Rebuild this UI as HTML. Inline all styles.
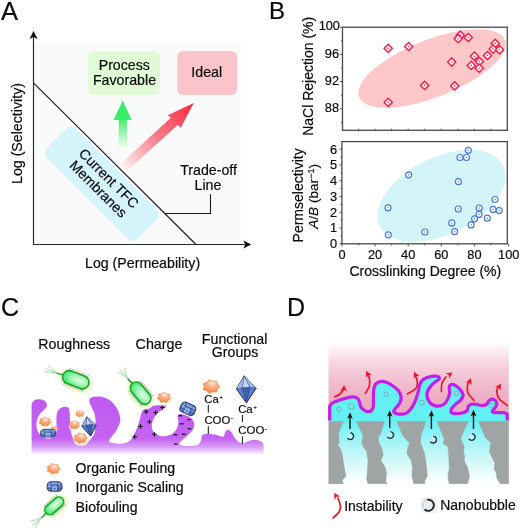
<!DOCTYPE html>
<html><head><meta charset="utf-8"><style>
html,body{margin:0;padding:0;background:#fff;width:520px;height:529px;overflow:hidden}
svg{display:block;will-change:transform}
text{font-family:"Liberation Sans",sans-serif;fill:#0a0a0a;stroke:#0a0a0a;stroke-width:0.18px}
</style></head><body>
<svg width="520" height="529" viewBox="0 0 520 529">
<defs><radialGradient id="bact" cx="0.62" cy="0.45" r="0.6"><stop offset="0" stop-color="#e4fae6"/><stop offset="0.5" stop-color="#a8f4b8"/><stop offset="1" stop-color="#48e878"/></radialGradient><radialGradient id="org" cx="0.55" cy="0.25" r="0.75"><stop offset="0" stop-color="#fdeee4"/><stop offset="0.35" stop-color="#f9b890"/><stop offset="0.75" stop-color="#f6985c"/><stop offset="1" stop-color="#f37e48"/></radialGradient><linearGradient id="hexg" x1="0" y1="0" x2="0.3" y2="1"><stop offset="0" stop-color="#9cb8ee"/><stop offset="0.5" stop-color="#7496dc"/><stop offset="1" stop-color="#5276c4"/></linearGradient><linearGradient id="dia" x1="0" y1="0" x2="1" y2="1"><stop offset="0" stop-color="#a8c0ee"/><stop offset="0.5" stop-color="#5b80cc"/><stop offset="1" stop-color="#34529a"/></linearGradient><linearGradient id="purp" x1="0" y1="395" x2="0" y2="455" gradientUnits="userSpaceOnUse"><stop offset="0" stop-color="#c05af2"/><stop offset="0.72" stop-color="#c462f2"/><stop offset="0.88" stop-color="#d9a4f4"/><stop offset="0.95" stop-color="#efd8fa"/><stop offset="1" stop-color="#ffffff"/></linearGradient></defs>
<text x="1" y="19.5" font-size="25.5">A</text>
<rect x="34.4" y="44" width="206.6" height="200.5" fill="#f9fafa"/>
<rect x="88.3" y="51.2" width="71.7" height="43.8" rx="6" fill="#dffad4"/>
<text x="124.3" y="69.8" font-size="14.2" text-anchor="middle">Process</text>
<text x="124.5" y="85.3" font-size="14.2" text-anchor="middle">Favorable</text>
<rect x="177.2" y="51.1" width="60" height="44" rx="6" fill="#fac4ca"/>
<text x="206.7" y="76.9" font-size="14.2" text-anchor="middle">Ideal</text>
<defs><linearGradient id="ga" x1="0" y1="100" x2="0" y2="149" gradientUnits="userSpaceOnUse"><stop offset="0" stop-color="#2aee5c"/><stop offset="0.4" stop-color="#3cee6c"/><stop offset="0.48" stop-color="#62ee88"/><stop offset="0.75" stop-color="#b0f6c0"/><stop offset="1" stop-color="#f4fff0"/></linearGradient><linearGradient id="ra" x1="122" y1="169" x2="194" y2="103" gradientUnits="userSpaceOnUse"><stop offset="0" stop-color="#fff4f4"/><stop offset="0.5" stop-color="#f47a88"/><stop offset="1" stop-color="#ff2a3c"/></linearGradient></defs>
<polygon points="122.7,100.8 131.7,120 126.9,120 126.9,149 118.7,149 118.7,120 113.5,120" fill="url(#ga)"/>
<polygon points="193.7,103.0 180.8,127.7 177.6,125.1 125.3,172.6 118.7,165.4 170.9,117.8 167.7,115.2" fill="url(#ra)"/>
<rect x="-64" y="-20.7" width="128" height="41.4" rx="7" fill="#d5f3fb" transform="translate(101.9,183.6) rotate(45)"/>
<g transform="translate(103.5,183.2) rotate(45)"><text x="0.3" y="-2.5" font-size="14" text-anchor="middle">Current TFC</text><text x="0.4" y="12.5" font-size="14" text-anchor="middle">Membranes</text></g>
<line x1="33.5" y1="36" x2="33.5" y2="245" stroke="#2a2a2a" stroke-width="1.2"/>
<line x1="32.9" y1="244.5" x2="247" y2="244.5" stroke="#2a2a2a" stroke-width="1.2"/>
<path d="M33.5,31 L37.6,39 L33.5,37 L29.5,39 Z" fill="#111"/>
<path d="M251.3,244.5 L243.3,248.6 L245.3,244.5 L243.3,240.5 Z" fill="#111"/>
<line x1="33.5" y1="82.9" x2="196" y2="244.5" stroke="#1a1a1a" stroke-width="1.1"/>
<polyline points="210.5,194.2 210.5,213.5 164.5,213.5" fill="none" stroke="#1a1a1a" stroke-width="1.1"/>
<text x="208.6" y="174.5" font-size="14.2" text-anchor="middle">Trade-off</text>
<text x="208" y="190.1" font-size="14.2" text-anchor="middle">Line</text>
<text x="85" y="268" font-size="14.2">Log (Permeability)</text>
<text transform="translate(21.5,133.5) rotate(-90)" font-size="14.2" text-anchor="middle">Log (Selectivity)</text>
<text x="269" y="19.4" font-size="24">B</text>
<ellipse cx="432" cy="68.5" rx="78.4" ry="28.8" transform="rotate(-21.4 432 68.5)" fill="#fec8c9"/>
<path d="M388.2,44.2 l4.1,4.1 l-4.1,4.1 l-4.1,-4.1 z" fill="#fff" stroke="#f8174a" stroke-width="1.4"/>
<circle cx="388.2" cy="48.3" r="0.8" fill="#f8174a"/>
<path d="M408.6,42.4 l4.1,4.1 l-4.1,4.1 l-4.1,-4.1 z" fill="#fff" stroke="#f8174a" stroke-width="1.4"/>
<circle cx="408.6" cy="46.5" r="0.8" fill="#f8174a"/>
<path d="M388.2,98.2 l4.1,4.1 l-4.1,4.1 l-4.1,-4.1 z" fill="#fff" stroke="#f8174a" stroke-width="1.4"/>
<circle cx="388.2" cy="102.3" r="0.8" fill="#f8174a"/>
<path d="M424.6,81.3 l4.1,4.1 l-4.1,4.1 l-4.1,-4.1 z" fill="#fff" stroke="#f8174a" stroke-width="1.4"/>
<circle cx="424.6" cy="85.4" r="0.8" fill="#f8174a"/>
<path d="M451.7,58.0 l4.1,4.1 l-4.1,4.1 l-4.1,-4.1 z" fill="#fff" stroke="#f8174a" stroke-width="1.4"/>
<circle cx="451.7" cy="62.1" r="0.8" fill="#f8174a"/>
<path d="M454.7,81.8 l4.1,4.1 l-4.1,4.1 l-4.1,-4.1 z" fill="#fff" stroke="#f8174a" stroke-width="1.4"/>
<circle cx="454.7" cy="85.9" r="0.8" fill="#f8174a"/>
<path d="M460.3,31.1 l4.1,4.1 l-4.1,4.1 l-4.1,-4.1 z" fill="#fff" stroke="#f8174a" stroke-width="1.4"/>
<circle cx="460.3" cy="35.2" r="0.8" fill="#f8174a"/>
<path d="M458.1,34.6 l4.1,4.1 l-4.1,4.1 l-4.1,-4.1 z" fill="#fff" stroke="#f8174a" stroke-width="1.4"/>
<circle cx="458.1" cy="38.7" r="0.8" fill="#f8174a"/>
<path d="M468.3,33.4 l4.1,4.1 l-4.1,4.1 l-4.1,-4.1 z" fill="#fff" stroke="#f8174a" stroke-width="1.4"/>
<circle cx="468.3" cy="37.5" r="0.8" fill="#f8174a"/>
<path d="M474.4,52.1 l4.1,4.1 l-4.1,4.1 l-4.1,-4.1 z" fill="#fff" stroke="#f8174a" stroke-width="1.4"/>
<circle cx="474.4" cy="56.2" r="0.8" fill="#f8174a"/>
<path d="M479.4,57.4 l4.1,4.1 l-4.1,4.1 l-4.1,-4.1 z" fill="#fff" stroke="#f8174a" stroke-width="1.4"/>
<circle cx="479.4" cy="61.5" r="0.8" fill="#f8174a"/>
<path d="M471.2,61.3 l4.1,4.1 l-4.1,4.1 l-4.1,-4.1 z" fill="#fff" stroke="#f8174a" stroke-width="1.4"/>
<circle cx="471.2" cy="65.4" r="0.8" fill="#f8174a"/>
<path d="M479.2,64.1 l4.1,4.1 l-4.1,4.1 l-4.1,-4.1 z" fill="#fff" stroke="#f8174a" stroke-width="1.4"/>
<circle cx="479.2" cy="68.2" r="0.8" fill="#f8174a"/>
<path d="M487.5,51.4 l4.1,4.1 l-4.1,4.1 l-4.1,-4.1 z" fill="#fff" stroke="#f8174a" stroke-width="1.4"/>
<circle cx="487.5" cy="55.5" r="0.8" fill="#f8174a"/>
<path d="M495.2,39.3 l4.1,4.1 l-4.1,4.1 l-4.1,-4.1 z" fill="#fff" stroke="#f8174a" stroke-width="1.4"/>
<circle cx="495.2" cy="43.4" r="0.8" fill="#f8174a"/>
<path d="M493.1,45.0 l4.1,4.1 l-4.1,4.1 l-4.1,-4.1 z" fill="#fff" stroke="#f8174a" stroke-width="1.4"/>
<circle cx="493.1" cy="49.1" r="0.8" fill="#f8174a"/>
<path d="M499.5,45.7 l4.1,4.1 l-4.1,4.1 l-4.1,-4.1 z" fill="#fff" stroke="#f8174a" stroke-width="1.4"/>
<circle cx="499.5" cy="49.8" r="0.8" fill="#f8174a"/>
<rect x="342.5" y="27.2" width="164.8" height="103.1" fill="none" stroke="#4a4a4a" stroke-width="1.3"/>
<text x="340.0" y="30.3" font-size="12.8" text-anchor="end">100</text>
<line x1="340" y1="27.2" x2="342.5" y2="27.2" stroke="#4a4a4a" stroke-width="1"/>
<text x="339.0" y="57.5" font-size="12.8" text-anchor="end">96</text>
<line x1="340" y1="54.4" x2="342.5" y2="54.4" stroke="#4a4a4a" stroke-width="1"/>
<text x="339.0" y="84.7" font-size="12.8" text-anchor="end">92</text>
<line x1="340" y1="81.6" x2="342.5" y2="81.6" stroke="#4a4a4a" stroke-width="1"/>
<text x="339.0" y="111.9" font-size="12.8" text-anchor="end">88</text>
<line x1="340" y1="108.8" x2="342.5" y2="108.8" stroke="#4a4a4a" stroke-width="1"/>
<line x1="341" y1="40.8" x2="342.5" y2="40.8" stroke="#4a4a4a" stroke-width="1"/>
<line x1="341" y1="68.0" x2="342.5" y2="68.0" stroke="#4a4a4a" stroke-width="1"/>
<line x1="341" y1="95.2" x2="342.5" y2="95.2" stroke="#4a4a4a" stroke-width="1"/>
<line x1="341" y1="122.4" x2="342.5" y2="122.4" stroke="#4a4a4a" stroke-width="1"/>
<line x1="358.6" y1="130.3" x2="358.6" y2="128.8" stroke="#4a4a4a" stroke-width="1"/>
<line x1="375.1" y1="130.3" x2="375.1" y2="128.8" stroke="#4a4a4a" stroke-width="1"/>
<line x1="391.6" y1="130.3" x2="391.6" y2="128.8" stroke="#4a4a4a" stroke-width="1"/>
<line x1="408.2" y1="130.3" x2="408.2" y2="128.8" stroke="#4a4a4a" stroke-width="1"/>
<line x1="424.8" y1="130.3" x2="424.8" y2="128.8" stroke="#4a4a4a" stroke-width="1"/>
<line x1="441.3" y1="130.3" x2="441.3" y2="128.8" stroke="#4a4a4a" stroke-width="1"/>
<line x1="457.9" y1="130.3" x2="457.9" y2="128.8" stroke="#4a4a4a" stroke-width="1"/>
<line x1="474.4" y1="130.3" x2="474.4" y2="128.8" stroke="#4a4a4a" stroke-width="1"/>
<line x1="490.9" y1="130.3" x2="490.9" y2="128.8" stroke="#4a4a4a" stroke-width="1"/>
<text transform="translate(312.5,76.3) rotate(-90)" font-size="14" text-anchor="middle">NaCl Rejection (%)</text>
<ellipse cx="441.4" cy="195.9" rx="68.7" ry="38.5" transform="rotate(-26.1 441.4 195.9)" fill="#d3f4f9"/>
<circle cx="408.6" cy="174.8" r="3.0" fill="#fff" stroke="#4a78dc" stroke-width="1.2"/>
<circle cx="408.6" cy="174.8" r="0.75" fill="#4a78dc"/>
<circle cx="388.1" cy="207.8" r="3.0" fill="#fff" stroke="#4a78dc" stroke-width="1.2"/>
<circle cx="388.1" cy="207.8" r="0.75" fill="#4a78dc"/>
<circle cx="388.3" cy="234.8" r="3.0" fill="#fff" stroke="#4a78dc" stroke-width="1.2"/>
<circle cx="388.3" cy="234.8" r="0.75" fill="#4a78dc"/>
<circle cx="424.9" cy="232.0" r="3.0" fill="#fff" stroke="#4a78dc" stroke-width="1.2"/>
<circle cx="424.9" cy="232.0" r="0.75" fill="#4a78dc"/>
<circle cx="468.3" cy="150.3" r="3.0" fill="#fff" stroke="#4a78dc" stroke-width="1.2"/>
<circle cx="468.3" cy="150.3" r="0.75" fill="#4a78dc"/>
<circle cx="460.0" cy="157.5" r="3.0" fill="#fff" stroke="#4a78dc" stroke-width="1.2"/>
<circle cx="460.0" cy="157.5" r="0.75" fill="#4a78dc"/>
<circle cx="466.5" cy="157.5" r="3.0" fill="#fff" stroke="#4a78dc" stroke-width="1.2"/>
<circle cx="466.5" cy="157.5" r="0.75" fill="#4a78dc"/>
<circle cx="458.4" cy="181.7" r="3.0" fill="#fff" stroke="#4a78dc" stroke-width="1.2"/>
<circle cx="458.4" cy="181.7" r="0.75" fill="#4a78dc"/>
<circle cx="495.1" cy="199.5" r="3.0" fill="#fff" stroke="#4a78dc" stroke-width="1.2"/>
<circle cx="495.1" cy="199.5" r="0.75" fill="#4a78dc"/>
<circle cx="458.2" cy="209.0" r="3.0" fill="#fff" stroke="#4a78dc" stroke-width="1.2"/>
<circle cx="458.2" cy="209.0" r="0.75" fill="#4a78dc"/>
<circle cx="479.2" cy="208.0" r="3.0" fill="#fff" stroke="#4a78dc" stroke-width="1.2"/>
<circle cx="479.2" cy="208.0" r="0.75" fill="#4a78dc"/>
<circle cx="493.1" cy="209.4" r="3.0" fill="#fff" stroke="#4a78dc" stroke-width="1.2"/>
<circle cx="493.1" cy="209.4" r="0.75" fill="#4a78dc"/>
<circle cx="499.2" cy="210.6" r="3.0" fill="#fff" stroke="#4a78dc" stroke-width="1.2"/>
<circle cx="499.2" cy="210.6" r="0.75" fill="#4a78dc"/>
<circle cx="479.0" cy="214.4" r="3.0" fill="#fff" stroke="#4a78dc" stroke-width="1.2"/>
<circle cx="479.0" cy="214.4" r="0.75" fill="#4a78dc"/>
<circle cx="474.6" cy="218.8" r="3.0" fill="#fff" stroke="#4a78dc" stroke-width="1.2"/>
<circle cx="474.6" cy="218.8" r="0.75" fill="#4a78dc"/>
<circle cx="487.3" cy="218.2" r="3.0" fill="#fff" stroke="#4a78dc" stroke-width="1.2"/>
<circle cx="487.3" cy="218.2" r="0.75" fill="#4a78dc"/>
<circle cx="451.8" cy="222.9" r="3.0" fill="#fff" stroke="#4a78dc" stroke-width="1.2"/>
<circle cx="451.8" cy="222.9" r="0.75" fill="#4a78dc"/>
<circle cx="471.1" cy="224.9" r="3.0" fill="#fff" stroke="#4a78dc" stroke-width="1.2"/>
<circle cx="471.1" cy="224.9" r="0.75" fill="#4a78dc"/>
<circle cx="454.6" cy="231.7" r="3.0" fill="#fff" stroke="#4a78dc" stroke-width="1.2"/>
<circle cx="454.6" cy="231.7" r="0.75" fill="#4a78dc"/>
<rect x="341.9" y="141.6" width="165.4" height="102.2" fill="none" stroke="#4a4a4a" stroke-width="1.3"/>
<text x="337" y="248.1" font-size="12.8" text-anchor="end">0</text>
<line x1="339.5" y1="243.8" x2="341.9" y2="243.8" stroke="#4a4a4a" stroke-width="1"/>
<line x1="340.5" y1="235.9" x2="341.9" y2="235.9" stroke="#4a4a4a" stroke-width="1"/>
<text x="337" y="232.3" font-size="12.8" text-anchor="end">1</text>
<line x1="339.5" y1="228.0" x2="341.9" y2="228.0" stroke="#4a4a4a" stroke-width="1"/>
<line x1="340.5" y1="220.1" x2="341.9" y2="220.1" stroke="#4a4a4a" stroke-width="1"/>
<text x="337" y="216.6" font-size="12.8" text-anchor="end">2</text>
<line x1="339.5" y1="212.3" x2="341.9" y2="212.3" stroke="#4a4a4a" stroke-width="1"/>
<line x1="340.5" y1="204.4" x2="341.9" y2="204.4" stroke="#4a4a4a" stroke-width="1"/>
<text x="337" y="200.8" font-size="12.8" text-anchor="end">3</text>
<line x1="339.5" y1="196.5" x2="341.9" y2="196.5" stroke="#4a4a4a" stroke-width="1"/>
<line x1="340.5" y1="188.6" x2="341.9" y2="188.6" stroke="#4a4a4a" stroke-width="1"/>
<text x="337" y="185.0" font-size="12.8" text-anchor="end">4</text>
<line x1="339.5" y1="180.7" x2="341.9" y2="180.7" stroke="#4a4a4a" stroke-width="1"/>
<line x1="340.5" y1="172.8" x2="341.9" y2="172.8" stroke="#4a4a4a" stroke-width="1"/>
<text x="337" y="169.3" font-size="12.8" text-anchor="end">5</text>
<line x1="339.5" y1="165.0" x2="341.9" y2="165.0" stroke="#4a4a4a" stroke-width="1"/>
<line x1="340.5" y1="157.1" x2="341.9" y2="157.1" stroke="#4a4a4a" stroke-width="1"/>
<text x="337" y="153.5" font-size="12.8" text-anchor="end">6</text>
<line x1="339.5" y1="149.2" x2="341.9" y2="149.2" stroke="#4a4a4a" stroke-width="1"/>
<text x="342.0" y="258.5" font-size="12.8" text-anchor="middle">0</text>
<line x1="342.0" y1="243.8" x2="342.0" y2="246.3" stroke="#4a4a4a" stroke-width="1"/>
<text x="375.1" y="258.5" font-size="12.8" text-anchor="middle">20</text>
<line x1="375.1" y1="243.8" x2="375.1" y2="246.3" stroke="#4a4a4a" stroke-width="1"/>
<text x="408.2" y="258.5" font-size="12.8" text-anchor="middle">40</text>
<line x1="408.2" y1="243.8" x2="408.2" y2="246.3" stroke="#4a4a4a" stroke-width="1"/>
<text x="441.3" y="258.5" font-size="12.8" text-anchor="middle">60</text>
<line x1="441.3" y1="243.8" x2="441.3" y2="246.3" stroke="#4a4a4a" stroke-width="1"/>
<text x="474.4" y="258.5" font-size="12.8" text-anchor="middle">80</text>
<line x1="474.4" y1="243.8" x2="474.4" y2="246.3" stroke="#4a4a4a" stroke-width="1"/>
<text x="508.7" y="258.5" font-size="12.8" text-anchor="middle">100</text>
<line x1="508.7" y1="243.8" x2="508.7" y2="246.3" stroke="#4a4a4a" stroke-width="1"/>
<line x1="358.6" y1="243.8" x2="358.6" y2="245.3" stroke="#4a4a4a" stroke-width="1"/>
<line x1="391.6" y1="243.8" x2="391.6" y2="245.3" stroke="#4a4a4a" stroke-width="1"/>
<line x1="424.8" y1="243.8" x2="424.8" y2="245.3" stroke="#4a4a4a" stroke-width="1"/>
<line x1="457.9" y1="243.8" x2="457.9" y2="245.3" stroke="#4a4a4a" stroke-width="1"/>
<line x1="490.9" y1="243.8" x2="490.9" y2="245.3" stroke="#4a4a4a" stroke-width="1"/>
<text x="349.5" y="275.6" font-size="14">Crosslinking Degree (%)</text>
<text transform="translate(303.2,195.4) rotate(-90)" font-size="14" text-anchor="middle">Permselectivity</text>
<text transform="translate(318,196.4) rotate(-90)" font-size="13.6" text-anchor="middle"><tspan font-style="italic">A</tspan>/<tspan font-style="italic">B</tspan> (bar<tspan dy="-4" font-size="9">−1</tspan><tspan dy="4">)</tspan></text>
<text x="1" y="316.3" font-size="25">C</text>
<text x="38.3" y="349.3" font-size="14.2">Roughness</text>
<text x="135.6" y="348.7" font-size="14.3">Charge</text>
<text x="234.6" y="343.8" font-size="14.2" text-anchor="middle">Functional</text>
<text x="235" y="357.4" font-size="14.2" text-anchor="middle">Groups</text>
<path d="M31.6,455 L31.6,404.1 C32.0,403.5 32.8,401.3 34.0,400.5 C35.2,399.7 37.3,399.3 38.9,399.3 C40.5,399.3 42.2,399.7 43.5,400.3 C44.8,400.9 46.0,402.0 46.5,403.0 C47.0,404.0 47.1,405.3 46.6,406.5 C46.1,407.7 44.9,408.9 43.7,410.2 C42.5,411.5 40.6,412.8 39.5,414.4 C38.4,416.0 37.6,417.9 37.1,419.8 C36.6,421.7 36.3,423.9 36.5,425.9 C36.7,427.9 37.3,430.2 38.2,432.0 C39.1,433.8 40.6,435.4 42.0,436.5 C43.4,437.6 45.1,438.4 46.8,438.6 C48.5,438.8 50.8,438.7 52.2,437.8 C53.6,436.9 54.5,435.2 55.2,433.2 C55.9,431.2 56.3,428.7 56.5,425.9 C56.7,423.1 56.2,418.8 56.5,416.2 C56.8,413.6 57.2,411.7 58.3,410.2 C59.4,408.7 61.7,407.5 63.1,407.0 C64.5,406.5 65.7,406.7 66.7,407.1 C67.7,407.5 68.8,407.4 69.3,409.5 C69.8,411.6 69.8,416.8 70.0,419.8 C70.2,422.8 70.2,424.8 70.5,427.4 C70.8,430.0 71.0,433.2 71.9,435.5 C72.8,437.8 74.0,439.8 76.0,441.0 C78.0,442.2 81.4,443.2 83.7,443.0 C86.0,442.8 88.1,441.5 89.9,439.9 C91.7,438.3 93.4,436.3 94.3,433.6 C95.2,430.9 95.4,426.8 95.5,423.7 C95.6,420.6 95.5,417.6 94.9,414.9 C94.3,412.2 92.7,409.6 91.8,407.5 C90.9,405.4 89.8,404.0 89.5,402.5 C89.2,401.0 89.2,399.6 90.0,398.7 C90.8,397.8 91.9,397.1 94.0,396.8 C96.1,396.5 99.6,396.2 102.4,396.9 C105.2,397.6 108.6,399.1 111.1,401.2 C113.6,403.3 116.0,406.5 117.5,409.5 C119.0,412.5 120.1,416.3 120.3,419.0 C120.5,421.7 119.6,423.4 118.8,425.5 C118.0,427.6 116.7,429.9 115.4,431.9 C114.1,433.9 111.8,436.1 110.8,437.7 C109.8,439.3 108.2,440.7 109.2,441.7 C110.2,442.7 113.9,443.2 116.5,443.5 C119.1,443.8 122.3,443.8 124.6,443.3 C126.9,442.8 128.7,442.0 130.4,440.3 C132.1,438.6 133.5,435.7 134.8,433.1 C136.1,430.6 137.2,427.5 138.1,425.0 C139.0,422.5 139.5,420.1 140.1,418.0 C140.7,415.9 141.0,414.0 141.7,412.5 C142.4,411.0 142.9,410.0 144.5,409.0 C146.1,408.0 148.8,406.9 151.1,406.3 C153.4,405.7 155.9,405.5 158.1,405.3 C160.3,405.1 163.1,405.1 164.5,405.3 C165.9,405.5 166.6,405.9 166.3,406.6 C166.0,407.3 164.0,408.5 162.5,409.6 C161.0,410.8 158.9,411.8 157.3,413.5 C155.7,415.2 153.9,417.7 153.0,420.0 C152.1,422.3 151.5,425.1 151.8,427.3 C152.1,429.5 153.2,431.7 154.6,433.1 C156.0,434.6 158.4,435.5 160.4,436.0 C162.4,436.5 164.5,436.4 166.5,436.0 C168.5,435.6 170.8,434.8 172.5,433.5 C174.2,432.2 175.8,430.5 176.8,428.5 C177.8,426.5 178.3,423.6 178.4,421.5 C178.5,419.4 177.3,417.2 177.6,416.0 C177.9,414.8 178.6,414.1 180.0,414.0 C181.4,413.9 184.1,414.6 186.0,415.3 C187.9,416.1 190.1,417.1 191.5,418.5 C192.9,419.9 194.1,422.1 194.3,424.0 C194.5,425.9 193.7,428.1 192.6,430.0 C191.5,431.9 189.3,433.8 187.5,435.5 C185.7,437.2 183.3,439.1 182.0,440.5 C180.7,441.9 179.2,443.1 179.5,444.0 C179.8,444.9 181.5,445.5 183.8,445.8 C186.1,446.1 190.6,446.1 193.1,445.8 C195.6,445.5 197.5,445.0 198.8,444.0 C200.1,443.0 200.6,441.3 201.1,440.0 C201.6,438.7 201.3,436.9 201.9,436.0 C202.5,435.1 203.4,434.7 204.6,434.3 C205.8,433.9 207.3,433.8 209.0,433.9 C210.7,433.9 213.1,434.2 215.0,434.6 C216.9,435.0 218.7,435.9 220.2,436.2 C221.7,436.5 223.0,436.8 223.8,436.2 C224.6,435.6 224.5,433.5 225.0,432.5 C225.5,431.5 226.1,430.4 226.8,430.0 C227.6,429.6 228.6,429.7 229.5,430.3 C230.4,430.9 231.6,432.4 232.5,433.8 C233.4,435.2 234.1,437.2 235.2,438.6 C236.3,440.0 237.7,441.3 239.0,442.1 C240.3,442.9 241.8,443.5 243.1,443.4 C244.4,443.3 245.5,442.1 247.1,441.5 C248.7,440.9 250.7,440.1 252.5,439.9 C254.3,439.7 256.3,439.8 257.9,440.2 C259.5,440.6 260.9,441.3 261.9,442.0 C262.8,442.7 263.3,444.1 263.6,444.5 L263.6,455 Z" fill="url(#purp)"/>
<path d="M143.9,411.7 h4.6 M146.2,409.4 v4.6" stroke="#111" stroke-width="1.05"/>
<path d="M153.4,412.5 h4.6 M155.7,410.2 v4.6" stroke="#111" stroke-width="1.05"/>
<path d="M160.0,407.5 h4.6 M162.3,405.2 v4.6" stroke="#111" stroke-width="1.05"/>
<path d="M147.1,421.8 h4.6 M149.4,419.5 v4.6" stroke="#111" stroke-width="1.05"/>
<path d="M138.1,426.4 h4.6 M140.4,424.1 v4.6" stroke="#111" stroke-width="1.05"/>
<path d="M132.3,436.8 h4.6 M134.6,434.5 v4.6" stroke="#111" stroke-width="1.05"/>
<path d="M152.1,434.2 h4.6 M154.4,431.9 v4.6" stroke="#111" stroke-width="1.05"/>
<path d="M178.5,415.8 h3.8" stroke="#111" stroke-width="1.2"/>
<path d="M187.1,419.6 h3.8" stroke="#111" stroke-width="1.2"/>
<path d="M179.9,423.8 h3.8" stroke="#111" stroke-width="1.2"/>
<path d="M187.5,428.7 h3.8" stroke="#111" stroke-width="1.2"/>
<path d="M181.9,434.2 h3.8" stroke="#111" stroke-width="1.2"/>
<path d="M173.6,434.8 h3.8" stroke="#111" stroke-width="1.2"/>
<path d="M173.9,444.0 h3.8" stroke="#111" stroke-width="1.2"/>
<g transform="translate(45.0,421.7) scale(0.85)"><ellipse cx="0.5" cy="1.5" rx="8.2" ry="7" fill="#f8fae2" opacity="0.8"/><path d="M7.1,1.0 C6.9,1.6 5.3,2.0 4.7,2.6 C4.1,3.3 4.2,4.6 3.4,4.9 C2.7,5.2 1.3,4.4 0.3,4.5 C-0.8,4.5 -2.0,5.4 -2.8,5.2 C-3.6,4.9 -3.6,3.6 -4.3,3.0 C-5.0,2.4 -6.7,2.1 -6.9,1.5 C-7.2,0.9 -5.9,0.0 -5.7,-0.8 C-5.5,-1.6 -6.3,-2.7 -5.8,-3.3 C-5.4,-3.8 -3.7,-3.5 -2.8,-3.9 C-1.8,-4.3 -1.2,-5.6 -0.4,-5.6 C0.5,-5.6 1.3,-4.4 2.2,-4.1 C3.2,-3.8 4.8,-4.2 5.4,-3.7 C5.9,-3.2 5.3,-2.0 5.5,-1.2 C5.8,-0.4 7.2,0.3 7.1,1.0 Z" fill="url(#org)" stroke="#f07040" stroke-width="0.5"/></g>
<g transform="translate(54.0,428.3) scale(0.42)"><ellipse cx="0.5" cy="1.5" rx="8.2" ry="7" fill="#f8fae2" opacity="0.8"/><path d="M7.2,0.0 C7.2,0.6 5.6,1.2 5.2,1.9 C4.7,2.7 5.1,4.0 4.5,4.4 C3.8,4.8 2.3,4.2 1.3,4.4 C0.3,4.5 -0.8,5.6 -1.6,5.5 C-2.4,5.3 -2.8,4.0 -3.6,3.5 C-4.4,3.0 -6.1,3.0 -6.5,2.4 C-6.8,1.8 -5.8,0.8 -5.8,0.0 C-5.8,-0.8 -6.8,-1.8 -6.5,-2.4 C-6.1,-3.0 -4.4,-3.0 -3.6,-3.5 C-2.8,-4.0 -2.4,-5.3 -1.6,-5.5 C-0.8,-5.6 0.3,-4.5 1.3,-4.4 C2.3,-4.2 3.8,-4.8 4.5,-4.4 C5.1,-4.0 4.7,-2.7 5.2,-1.9 C5.6,-1.2 7.2,-0.6 7.2,0.0 Z" fill="url(#org)" stroke="#f07040" stroke-width="0.5"/></g>
<g transform="translate(80.0,413.7) scale(0.60)"><ellipse cx="0.5" cy="1.5" rx="8.2" ry="7" fill="#f8fae2" opacity="0.8"/><path d="M7.2,0.5 C7.1,1.1 5.5,1.6 5.0,2.3 C4.4,3.0 4.7,4.3 4.0,4.7 C3.3,5.0 1.8,4.3 0.8,4.4 C-0.2,4.5 -1.4,5.5 -2.2,5.3 C-3.0,5.1 -3.2,3.8 -4.0,3.2 C-4.7,2.7 -6.4,2.6 -6.7,2.0 C-7.0,1.4 -5.8,0.4 -5.7,-0.4 C-5.6,-1.2 -6.6,-2.3 -6.2,-2.9 C-5.8,-3.4 -4.1,-3.3 -3.2,-3.7 C-2.3,-4.2 -1.8,-5.5 -1.0,-5.5 C-0.2,-5.6 0.8,-4.5 1.8,-4.3 C2.8,-4.0 4.4,-4.5 5.0,-4.1 C5.6,-3.6 5.0,-2.3 5.4,-1.6 C5.8,-0.8 7.2,-0.2 7.2,0.5 Z" fill="url(#org)" stroke="#f07040" stroke-width="0.5"/></g>
<g transform="translate(74.4,424.9) scale(0.75)"><ellipse cx="0.5" cy="1.5" rx="8.2" ry="7" fill="#f8fae2" opacity="0.8"/><path d="M6.8,1.9 C6.5,2.5 4.8,2.6 4.0,3.2 C3.3,3.8 3.1,5.1 2.3,5.3 C1.5,5.5 0.3,4.5 -0.7,4.4 C-1.7,4.3 -3.2,5.1 -3.9,4.7 C-4.6,4.4 -4.4,3.0 -4.9,2.3 C-5.5,1.6 -7.1,1.2 -7.2,0.6 C-7.2,-0.1 -5.8,-0.8 -5.4,-1.5 C-5.1,-2.3 -5.6,-3.6 -5.0,-4.0 C-4.4,-4.5 -2.8,-4.0 -1.8,-4.2 C-0.8,-4.5 0.1,-5.6 0.9,-5.6 C1.7,-5.5 2.3,-4.2 3.1,-3.8 C4.0,-3.3 5.7,-3.5 6.1,-2.9 C6.6,-2.4 5.6,-1.3 5.7,-0.4 C5.8,0.4 7.1,1.3 6.8,1.9 Z" fill="url(#org)" stroke="#f07040" stroke-width="0.5"/></g>
<g transform="translate(80.6,438.0) scale(0.95)"><ellipse cx="0.5" cy="1.5" rx="8.2" ry="7" fill="#f8fae2" opacity="0.8"/><path d="M7.2,0.0 C7.2,0.6 5.6,1.2 5.2,1.9 C4.7,2.7 5.1,4.0 4.5,4.4 C3.8,4.8 2.3,4.2 1.3,4.4 C0.3,4.5 -0.8,5.6 -1.6,5.5 C-2.4,5.3 -2.8,4.0 -3.6,3.5 C-4.4,3.0 -6.1,3.0 -6.5,2.4 C-6.8,1.8 -5.8,0.8 -5.8,0.0 C-5.8,-0.8 -6.8,-1.8 -6.5,-2.4 C-6.1,-3.0 -4.4,-3.0 -3.6,-3.5 C-2.8,-4.0 -2.4,-5.3 -1.6,-5.5 C-0.8,-5.6 0.3,-4.5 1.3,-4.4 C2.3,-4.2 3.8,-4.8 4.5,-4.4 C5.1,-4.0 4.7,-2.7 5.2,-1.9 C5.6,-1.2 7.2,-0.6 7.2,0.0 Z" fill="url(#org)" stroke="#f07040" stroke-width="0.5"/></g>
<g transform="translate(164.0,397.5) scale(0.95)"><ellipse cx="0.5" cy="1.5" rx="8.2" ry="7" fill="#f8fae2" opacity="0.8"/><path d="M7.0,1.4 C6.7,2.1 5.0,2.3 4.4,2.9 C3.7,3.5 3.6,4.9 2.9,5.1 C2.1,5.4 0.8,4.5 -0.2,4.5 C-1.3,4.4 -2.6,5.3 -3.4,5.0 C-4.1,4.6 -4.0,3.3 -4.6,2.7 C-5.3,2.0 -6.9,1.7 -7.1,1.0 C-7.2,0.4 -5.8,-0.4 -5.6,-1.2 C-5.3,-1.9 -6.0,-3.2 -5.5,-3.7 C-4.9,-4.1 -3.3,-3.8 -2.3,-4.1 C-1.3,-4.4 -0.6,-5.6 0.3,-5.6 C1.1,-5.6 1.8,-4.3 2.7,-4.0 C3.6,-3.6 5.3,-3.8 5.8,-3.3 C6.3,-2.8 5.5,-1.6 5.7,-0.8 C5.9,-0.0 7.2,0.8 7.0,1.4 Z" fill="url(#org)" stroke="#f07040" stroke-width="0.5"/></g>
<g transform="translate(211.2,386.5) scale(1.20)"><ellipse cx="0.5" cy="1.5" rx="8.2" ry="7" fill="#f8fae2" opacity="0.8"/><path d="M7.2,0.0 C7.2,0.6 5.6,1.2 5.2,1.9 C4.7,2.7 5.1,4.0 4.5,4.4 C3.8,4.8 2.3,4.2 1.3,4.4 C0.3,4.5 -0.8,5.6 -1.6,5.5 C-2.4,5.3 -2.8,4.0 -3.6,3.5 C-4.4,3.0 -6.1,3.0 -6.5,2.4 C-6.8,1.8 -5.8,0.8 -5.8,0.0 C-5.8,-0.8 -6.8,-1.8 -6.5,-2.4 C-6.1,-3.0 -4.4,-3.0 -3.6,-3.5 C-2.8,-4.0 -2.4,-5.3 -1.6,-5.5 C-0.8,-5.6 0.3,-4.5 1.3,-4.4 C2.3,-4.2 3.8,-4.8 4.5,-4.4 C5.1,-4.0 4.7,-2.7 5.2,-1.9 C5.6,-1.2 7.2,-0.6 7.2,0.0 Z" fill="url(#org)" stroke="#f07040" stroke-width="0.5"/></g>
<g transform="translate(48,433.2) scale(1,0.75) translate(-48,-433.2)"><g transform="translate(48.0,433.2) rotate(0.0) scale(0.98)"><path d="M-7.6,-1 C-7.6,-3.5 -6,-5 -4.5,-5.2 L4.5,-5.2 C6,-5 7.6,-3.5 7.6,-1 L7.6,1.5 C7.6,3.8 6,5.2 4.5,5.2 L-4.5,5.2 C-6,5.2 -7.6,3.8 -7.6,1.5Z" fill="url(#hexg)" stroke="#1c2c66" stroke-width="1"/><path d="M-7,-1.5 L7,-1.5 M-4.5,-5 L-3,-1.5 L-3,5 M4.5,-5 L3,-1.5 L3,5" fill="none" stroke="#1e2e66" stroke-width="0.6" opacity="0.9"/><path d="M-2,0.5 L2,0.5 L2,4 L-2,4Z M-6.5,-0.5 L-3.8,-0.5 M4,-3.5 L6,-2.5" fill="none" stroke="#dce8ff" stroke-width="0.8" opacity="0.8"/><path d="M-7,2 L-3,2 M3,2 L7,2" fill="none" stroke="#23336e" stroke-width="0.6"/></g></g>
<g transform="translate(187.9,408.8) rotate(25.0) scale(1.00)"><path d="M-7.6,-1 C-7.6,-3.5 -6,-5 -4.5,-5.2 L4.5,-5.2 C6,-5 7.6,-3.5 7.6,-1 L7.6,1.5 C7.6,3.8 6,5.2 4.5,5.2 L-4.5,5.2 C-6,5.2 -7.6,3.8 -7.6,1.5Z" fill="url(#hexg)" stroke="#1c2c66" stroke-width="1"/><path d="M-7,-1.5 L7,-1.5 M-4.5,-5 L-3,-1.5 L-3,5 M4.5,-5 L3,-1.5 L3,5" fill="none" stroke="#1e2e66" stroke-width="0.6" opacity="0.9"/><path d="M-2,0.5 L2,0.5 L2,4 L-2,4Z M-6.5,-0.5 L-3.8,-0.5 M4,-3.5 L6,-2.5" fill="none" stroke="#dce8ff" stroke-width="0.8" opacity="0.8"/><path d="M-7,2 L-3,2 M3,2 L7,2" fill="none" stroke="#23336e" stroke-width="0.6"/></g>
<path d="M86.8,416.8 L96.2,425.5 L90.6,436.1 L81.8,426.2 Z" fill="#5a7fcc" stroke="#1c2a5c" stroke-width="1"/><path d="M86.8,416.8 L96.2,425.5 L91.6,424.5 L86.1,425.2 L81.8,426.2 Z" fill="#a4bceb"/><path d="M86.8,416.8 L91.6,424.5 L86.1,425.2 Z" fill="#c8d8f6"/><path d="M86.1,425.2 L91.6,424.5 L90.6,436.1 Z" fill="#3e62b0"/><path d="M81.8,426.2 L86.1,425.2 L91.6,424.5 L96.2,425.5 M86.8,416.8 L86.1,425.2 L90.6,436.1 M86.8,416.8 L91.6,424.5 M91.6,424.5 L90.6,436.1" fill="none" stroke="#2a3c78" stroke-width="0.6"/>
<path d="M244.2,375.8 L256.1,388.3 L246.4,402.9 L236.4,388.9 Z" fill="#5a7fcc" stroke="#1c2a5c" stroke-width="1"/><path d="M244.2,375.8 L256.1,388.3 L249.8,387.3 L242.3,387.9 L236.4,388.9 Z" fill="#a4bceb"/><path d="M244.2,375.8 L249.8,387.3 L242.3,387.9 Z" fill="#c8d8f6"/><path d="M242.3,387.9 L249.8,387.3 L246.4,402.9 Z" fill="#3e62b0"/><path d="M236.4,388.9 L242.3,387.9 L249.8,387.3 L256.1,388.3 M244.2,375.8 L242.3,387.9 L246.4,402.9 M244.2,375.8 L249.8,387.3 M249.8,387.3 L246.4,402.9" fill="none" stroke="#2a3c78" stroke-width="0.6"/>
<g transform="translate(75.8,379.8) rotate(21.0)"><ellipse cx="0.5" cy="1.2" rx="18.2" ry="11.0" fill="#f3fbd6" opacity="0.95"/><path d="M-19.8,0.5 q-6,0.5 -12,3.5 M-19.8,0.5 q-6,-0.5 -12.5,0 M-19.8,0.5 q-5,-1 -11,-4.5" fill="none" stroke="#8ee090" stroke-width="0.8"/><path d="M-13.2,0 L-20.2,0.6" stroke="#1ca52c" stroke-width="1.5"/><line x1="-9.8" y1="-6.5" x2="-9.0" y2="-9.1" stroke="#7aa888" stroke-width="0.7"/><line x1="-8.8" y1="6.5" x2="-9.7" y2="9.1" stroke="#7aa888" stroke-width="0.7"/><line x1="-7.4" y1="-6.5" x2="-6.6" y2="-9.1" stroke="#7aa888" stroke-width="0.7"/><line x1="-6.4" y1="6.5" x2="-7.2" y2="9.1" stroke="#7aa888" stroke-width="0.7"/><line x1="-4.9" y1="-6.5" x2="-4.1" y2="-9.1" stroke="#7aa888" stroke-width="0.7"/><line x1="-3.9" y1="6.5" x2="-4.7" y2="9.1" stroke="#7aa888" stroke-width="0.7"/><line x1="-2.5" y1="-6.5" x2="-1.7" y2="-9.1" stroke="#7aa888" stroke-width="0.7"/><line x1="-1.5" y1="6.5" x2="-2.3" y2="9.1" stroke="#7aa888" stroke-width="0.7"/><line x1="0.0" y1="-6.5" x2="0.8" y2="-9.1" stroke="#7aa888" stroke-width="0.7"/><line x1="1.0" y1="6.5" x2="0.2" y2="9.1" stroke="#7aa888" stroke-width="0.7"/><line x1="2.5" y1="-6.5" x2="3.3" y2="-9.1" stroke="#7aa888" stroke-width="0.7"/><line x1="3.5" y1="6.5" x2="2.7" y2="9.1" stroke="#7aa888" stroke-width="0.7"/><line x1="4.9" y1="-6.5" x2="5.7" y2="-9.1" stroke="#7aa888" stroke-width="0.7"/><line x1="5.9" y1="6.5" x2="5.1" y2="9.1" stroke="#7aa888" stroke-width="0.7"/><line x1="7.4" y1="-6.5" x2="8.2" y2="-9.1" stroke="#7aa888" stroke-width="0.7"/><line x1="8.4" y1="6.5" x2="7.6" y2="9.1" stroke="#7aa888" stroke-width="0.7"/><line x1="9.8" y1="-6.5" x2="10.7" y2="-9.1" stroke="#7aa888" stroke-width="0.7"/><line x1="10.8" y1="6.5" x2="10.0" y2="9.1" stroke="#7aa888" stroke-width="0.7"/><rect x="-13.8" y="-6.5" width="27.5" height="13.0" rx="6.5" fill="url(#bact)" stroke="#1ca52c" stroke-width="1.6"/></g>
<g transform="translate(140.6,393.2) rotate(50.0)"><ellipse cx="0.5" cy="1.2" rx="17.2" ry="10.6" fill="#f3fbd6" opacity="0.95"/><path d="M-18.8,0.5 q-6,0.5 -12,3.5 M-18.8,0.5 q-6,-0.5 -12.5,0 M-18.8,0.5 q-5,-1 -11,-4.5" fill="none" stroke="#8ee090" stroke-width="0.8"/><path d="M-12.2,0 L-19.2,0.6" stroke="#1ca52c" stroke-width="1.5"/><line x1="-9.1" y1="-6.1" x2="-8.3" y2="-8.7" stroke="#7aa888" stroke-width="0.7"/><line x1="-8.1" y1="6.1" x2="-8.9" y2="8.7" stroke="#7aa888" stroke-width="0.7"/><line x1="-6.8" y1="-6.1" x2="-6.0" y2="-8.7" stroke="#7aa888" stroke-width="0.7"/><line x1="-5.8" y1="6.1" x2="-6.6" y2="8.7" stroke="#7aa888" stroke-width="0.7"/><line x1="-4.5" y1="-6.1" x2="-3.7" y2="-8.7" stroke="#7aa888" stroke-width="0.7"/><line x1="-3.5" y1="6.1" x2="-4.3" y2="8.7" stroke="#7aa888" stroke-width="0.7"/><line x1="-2.3" y1="-6.1" x2="-1.5" y2="-8.7" stroke="#7aa888" stroke-width="0.7"/><line x1="-1.3" y1="6.1" x2="-2.1" y2="8.7" stroke="#7aa888" stroke-width="0.7"/><line x1="0.0" y1="-6.1" x2="0.8" y2="-8.7" stroke="#7aa888" stroke-width="0.7"/><line x1="1.0" y1="6.1" x2="0.2" y2="8.7" stroke="#7aa888" stroke-width="0.7"/><line x1="2.3" y1="-6.1" x2="3.1" y2="-8.7" stroke="#7aa888" stroke-width="0.7"/><line x1="3.3" y1="6.1" x2="2.5" y2="8.7" stroke="#7aa888" stroke-width="0.7"/><line x1="4.5" y1="-6.1" x2="5.3" y2="-8.7" stroke="#7aa888" stroke-width="0.7"/><line x1="5.5" y1="6.1" x2="4.7" y2="8.7" stroke="#7aa888" stroke-width="0.7"/><line x1="6.8" y1="-6.1" x2="7.6" y2="-8.7" stroke="#7aa888" stroke-width="0.7"/><line x1="7.8" y1="6.1" x2="7.0" y2="8.7" stroke="#7aa888" stroke-width="0.7"/><line x1="9.1" y1="-6.1" x2="9.9" y2="-8.7" stroke="#7aa888" stroke-width="0.7"/><line x1="10.1" y1="6.1" x2="9.3" y2="8.7" stroke="#7aa888" stroke-width="0.7"/><rect x="-12.8" y="-6.1" width="25.5" height="12.2" rx="6.1" fill="url(#bact)" stroke="#1ca52c" stroke-width="1.6"/></g>
<text x="204.3" y="402.9" font-size="11.3">Ca<tspan font-size="5.5" dx="0.8" dy="-4">+</tspan></text>
<line x1="208.3" y1="404.9" x2="208.3" y2="412.6" stroke="#111" stroke-width="1"/>
<text x="204.4" y="423.9" font-size="11.4">COO<tspan font-size="6.5" dx="0.3" dy="-3.5">-</tspan></text>
<line x1="208.3" y1="426.2" x2="208.3" y2="434" stroke="#111" stroke-width="1"/>
<text x="238.2" y="412.7" font-size="11.3">Ca<tspan font-size="5.5" dx="0.8" dy="-4">+</tspan></text>
<line x1="242.4" y1="415" x2="242.4" y2="422" stroke="#111" stroke-width="1"/>
<text x="238.3" y="434.1" font-size="11.4">COO<tspan font-size="6.5" dx="0.3" dy="-3.5">-</tspan></text>
<line x1="242.4" y1="436.4" x2="242.4" y2="444" stroke="#111" stroke-width="1"/>
<g transform="translate(53.5,468.8) scale(0.95)"><ellipse cx="0.5" cy="1.5" rx="8.2" ry="7" fill="#f8fae2" opacity="0.8"/><path d="M7.2,0.0 C7.2,0.6 5.6,1.2 5.2,1.9 C4.7,2.7 5.1,4.0 4.5,4.4 C3.8,4.8 2.3,4.2 1.3,4.4 C0.3,4.5 -0.8,5.6 -1.6,5.5 C-2.4,5.3 -2.8,4.0 -3.6,3.5 C-4.4,3.0 -6.1,3.0 -6.5,2.4 C-6.8,1.8 -5.8,0.8 -5.8,0.0 C-5.8,-0.8 -6.8,-1.8 -6.5,-2.4 C-6.1,-3.0 -4.4,-3.0 -3.6,-3.5 C-2.8,-4.0 -2.4,-5.3 -1.6,-5.5 C-0.8,-5.6 0.3,-4.5 1.3,-4.4 C2.3,-4.2 3.8,-4.8 4.5,-4.4 C5.1,-4.0 4.7,-2.7 5.2,-1.9 C5.6,-1.2 7.2,-0.6 7.2,0.0 Z" fill="url(#org)" stroke="#f07040" stroke-width="0.5"/></g>
<g transform="translate(54.6,486.5) scale(1,0.92) translate(-54.6,-486.5)"><g transform="translate(54.6,486.5) rotate(0.0) scale(0.98)"><path d="M-7.6,-1 C-7.6,-3.5 -6,-5 -4.5,-5.2 L4.5,-5.2 C6,-5 7.6,-3.5 7.6,-1 L7.6,1.5 C7.6,3.8 6,5.2 4.5,5.2 L-4.5,5.2 C-6,5.2 -7.6,3.8 -7.6,1.5Z" fill="url(#hexg)" stroke="#1c2c66" stroke-width="1"/><path d="M-7,-1.5 L7,-1.5 M-4.5,-5 L-3,-1.5 L-3,5 M4.5,-5 L3,-1.5 L3,5" fill="none" stroke="#1e2e66" stroke-width="0.6" opacity="0.9"/><path d="M-2,0.5 L2,0.5 L2,4 L-2,4Z M-6.5,-0.5 L-3.8,-0.5 M4,-3.5 L6,-2.5" fill="none" stroke="#dce8ff" stroke-width="0.8" opacity="0.8"/><path d="M-7,2 L-3,2 M3,2 L7,2" fill="none" stroke="#23336e" stroke-width="0.6"/></g></g>
<g transform="translate(54.3,505.9) rotate(-41.0)"><ellipse cx="0.5" cy="1.2" rx="15.4" ry="9.4" fill="#f3fbd6" opacity="0.95"/><path d="M-16.9,0.5 q-6,0.5 -12,3.5 M-16.9,0.5 q-6,-0.5 -12.5,0 M-16.9,0.5 q-5,-1 -11,-4.5" fill="none" stroke="#8ee090" stroke-width="0.8"/><path d="M-10.4,0 L-17.4,0.6" stroke="#1ca52c" stroke-width="1.5"/><line x1="-8.0" y1="-4.9" x2="-7.2" y2="-7.5" stroke="#7aa888" stroke-width="0.7"/><line x1="-7.0" y1="4.9" x2="-7.8" y2="7.5" stroke="#7aa888" stroke-width="0.7"/><line x1="-6.0" y1="-4.9" x2="-5.2" y2="-7.5" stroke="#7aa888" stroke-width="0.7"/><line x1="-5.0" y1="4.9" x2="-5.8" y2="7.5" stroke="#7aa888" stroke-width="0.7"/><line x1="-4.0" y1="-4.9" x2="-3.2" y2="-7.5" stroke="#7aa888" stroke-width="0.7"/><line x1="-3.0" y1="4.9" x2="-3.8" y2="7.5" stroke="#7aa888" stroke-width="0.7"/><line x1="-2.0" y1="-4.9" x2="-1.2" y2="-7.5" stroke="#7aa888" stroke-width="0.7"/><line x1="-1.0" y1="4.9" x2="-1.8" y2="7.5" stroke="#7aa888" stroke-width="0.7"/><line x1="0.0" y1="-4.9" x2="0.8" y2="-7.5" stroke="#7aa888" stroke-width="0.7"/><line x1="1.0" y1="4.9" x2="0.2" y2="7.5" stroke="#7aa888" stroke-width="0.7"/><line x1="2.0" y1="-4.9" x2="2.8" y2="-7.5" stroke="#7aa888" stroke-width="0.7"/><line x1="3.0" y1="4.9" x2="2.2" y2="7.5" stroke="#7aa888" stroke-width="0.7"/><line x1="4.0" y1="-4.9" x2="4.8" y2="-7.5" stroke="#7aa888" stroke-width="0.7"/><line x1="5.0" y1="4.9" x2="4.2" y2="7.5" stroke="#7aa888" stroke-width="0.7"/><line x1="6.0" y1="-4.9" x2="6.8" y2="-7.5" stroke="#7aa888" stroke-width="0.7"/><line x1="7.0" y1="4.9" x2="6.2" y2="7.5" stroke="#7aa888" stroke-width="0.7"/><line x1="8.0" y1="-4.9" x2="8.8" y2="-7.5" stroke="#7aa888" stroke-width="0.7"/><line x1="9.0" y1="4.9" x2="8.2" y2="7.5" stroke="#7aa888" stroke-width="0.7"/><rect x="-10.9" y="-4.9" width="21.8" height="9.8" rx="4.9" fill="url(#bact)" stroke="#1ca52c" stroke-width="1.6"/></g>
<text x="75.6" y="473" font-size="14.1">Organic Fouling</text>
<text x="75.6" y="491.9" font-size="14.1">Inorganic Scaling</text>
<text x="75.6" y="511.5" font-size="14.1">Biofouling</text>
<text x="287" y="315.8" font-size="25">D</text>
<defs><linearGradient id="pinkg" x1="0" y1="341" x2="0" y2="421" gradientUnits="userSpaceOnUse"><stop offset="0" stop-color="#ffffff"/><stop offset="0.3" stop-color="#f7d2de"/><stop offset="0.7" stop-color="#eeaec4"/><stop offset="1" stop-color="#eba2ba"/></linearGradient><linearGradient id="poreg" x1="0" y1="421" x2="0" y2="484" gradientUnits="userSpaceOnUse"><stop offset="0" stop-color="#66f2f6"/><stop offset="0.3" stop-color="#9ef4f7"/><stop offset="0.65" stop-color="#d4f8f8"/><stop offset="1" stop-color="#ffffff"/></linearGradient></defs>
<rect x="328.5" y="341" width="180.3" height="80.5" fill="url(#pinkg)"/>
<path d="M329.7,421.2 L329.7,406.2 C330.1,405.7 330.8,404.0 332.2,403.1 C333.6,402.2 336.1,401.4 338.3,400.6 C340.6,399.8 343.2,398.8 345.7,398.2 C348.2,397.6 351.2,396.9 353.1,396.9 C355.1,396.9 356.4,397.5 357.4,398.2 C358.4,398.9 358.7,399.9 359.2,401.2 C359.7,402.5 359.8,404.8 360.5,406.2 C361.2,407.6 362.3,408.9 363.5,409.8 C364.7,410.7 366.5,411.6 367.8,411.7 C369.1,411.8 370.6,411.4 371.5,410.5 C372.4,409.6 373.1,408.6 373.4,406.2 C373.7,403.8 373.3,399.4 373.4,396.3 C373.5,393.2 373.6,389.8 374.0,387.7 C374.4,385.6 374.8,385.0 375.8,384.0 C376.8,383.0 378.4,381.8 380.2,381.5 C381.9,381.2 384.4,381.6 386.3,382.2 C388.2,382.8 389.9,383.9 391.9,385.3 C393.9,386.7 396.8,388.6 398.3,390.5 C399.8,392.4 400.8,394.8 401.1,396.8 C401.4,398.8 400.9,400.8 400.0,402.6 C399.1,404.4 397.1,406.4 396.0,407.8 C394.9,409.2 393.7,410.3 393.7,411.3 C393.7,412.3 394.6,413.1 396.0,413.6 C397.4,414.1 400.4,414.3 402.3,414.1 C404.2,413.9 405.8,413.7 407.5,412.4 C409.2,411.1 411.3,408.4 412.7,406.1 C414.1,403.8 415.2,401.1 416.1,398.6 C417.1,396.1 417.8,393.3 418.4,391.1 C419.0,388.9 419.0,387.0 419.6,385.3 C420.2,383.6 420.8,381.9 421.9,380.7 C423.0,379.4 424.6,378.6 426.5,377.8 C428.4,377.0 431.4,376.3 433.4,376.1 C435.4,375.9 437.3,376.1 438.3,376.6 C439.3,377.1 439.8,378.0 439.2,379.0 C438.6,380.0 436.1,381.1 434.6,382.4 C433.1,383.7 431.2,385.3 430.0,387.0 C428.8,388.7 427.5,390.9 427.1,392.8 C426.7,394.7 427.0,396.8 427.7,398.6 C428.4,400.4 429.6,402.6 431.1,403.8 C432.6,405.1 434.8,406.0 436.9,406.1 C439.0,406.2 441.7,405.6 443.5,404.5 C445.3,403.4 446.6,401.1 447.6,399.2 C448.6,397.3 449.4,394.9 449.7,392.9 C450.0,390.9 449.0,388.8 449.2,387.4 C449.4,386.0 450.1,385.0 451.1,384.6 C452.1,384.2 453.7,384.5 455.2,385.3 C456.7,386.1 458.8,387.9 460.1,389.5 C461.4,391.1 463.1,393.3 463.2,395.0 C463.3,396.7 462.1,398.3 460.8,399.9 C459.5,401.5 456.8,403.1 455.2,404.7 C453.6,406.3 451.9,407.9 451.3,409.3 C450.7,410.7 450.9,412.1 451.5,412.8 C452.1,413.5 453.4,413.7 455.2,413.7 C457.0,413.7 460.3,413.5 462.2,413.0 C464.1,412.5 465.8,412.0 466.8,410.9 C467.8,409.8 467.7,407.4 468.4,406.3 C469.1,405.2 469.8,404.5 471.2,404.2 C472.6,403.9 475.0,404.1 476.7,404.3 C478.4,404.5 480.0,405.5 481.6,405.5 C483.2,405.5 485.2,405.2 486.4,404.5 C487.6,403.8 487.7,402.1 488.6,401.2 C489.5,400.3 490.8,399.3 491.9,399.2 C493.0,399.1 494.6,399.6 495.4,400.5 C496.2,401.4 496.9,403.2 496.8,404.5 C496.7,405.8 495.4,407.1 494.7,408.2 C493.9,409.3 492.2,410.7 492.3,411.4 C492.4,412.1 493.5,412.4 495.4,412.6 C497.3,412.8 501.5,412.4 503.5,412.6 C505.5,412.8 506.6,413.8 507.2,414.0 L507.2,421.2 Z" fill="#62f0f3"/>
<path d="M329.7,420.5 L329.7,406.2 C330.1,405.7 330.8,404.0 332.2,403.1 C333.6,402.2 336.1,401.4 338.3,400.6 C340.6,399.8 343.2,398.8 345.7,398.2 C348.2,397.6 351.2,396.9 353.1,396.9 C355.1,396.9 356.4,397.5 357.4,398.2 C358.4,398.9 358.7,399.9 359.2,401.2 C359.7,402.5 359.8,404.8 360.5,406.2 C361.2,407.6 362.3,408.9 363.5,409.8 C364.7,410.7 366.5,411.6 367.8,411.7 C369.1,411.8 370.6,411.4 371.5,410.5 C372.4,409.6 373.1,408.6 373.4,406.2 C373.7,403.8 373.3,399.4 373.4,396.3 C373.5,393.2 373.6,389.8 374.0,387.7 C374.4,385.6 374.8,385.0 375.8,384.0 C376.8,383.0 378.4,381.8 380.2,381.5 C381.9,381.2 384.4,381.6 386.3,382.2 C388.2,382.8 389.9,383.9 391.9,385.3 C393.9,386.7 396.8,388.6 398.3,390.5 C399.8,392.4 400.8,394.8 401.1,396.8 C401.4,398.8 400.9,400.8 400.0,402.6 C399.1,404.4 397.1,406.4 396.0,407.8 C394.9,409.2 393.7,410.3 393.7,411.3 C393.7,412.3 394.6,413.1 396.0,413.6 C397.4,414.1 400.4,414.3 402.3,414.1 C404.2,413.9 405.8,413.7 407.5,412.4 C409.2,411.1 411.3,408.4 412.7,406.1 C414.1,403.8 415.2,401.1 416.1,398.6 C417.1,396.1 417.8,393.3 418.4,391.1 C419.0,388.9 419.0,387.0 419.6,385.3 C420.2,383.6 420.8,381.9 421.9,380.7 C423.0,379.4 424.6,378.6 426.5,377.8 C428.4,377.0 431.4,376.3 433.4,376.1 C435.4,375.9 437.3,376.1 438.3,376.6 C439.3,377.1 439.8,378.0 439.2,379.0 C438.6,380.0 436.1,381.1 434.6,382.4 C433.1,383.7 431.2,385.3 430.0,387.0 C428.8,388.7 427.5,390.9 427.1,392.8 C426.7,394.7 427.0,396.8 427.7,398.6 C428.4,400.4 429.6,402.6 431.1,403.8 C432.6,405.1 434.8,406.0 436.9,406.1 C439.0,406.2 441.7,405.6 443.5,404.5 C445.3,403.4 446.6,401.1 447.6,399.2 C448.6,397.3 449.4,394.9 449.7,392.9 C450.0,390.9 449.0,388.8 449.2,387.4 C449.4,386.0 450.1,385.0 451.1,384.6 C452.1,384.2 453.7,384.5 455.2,385.3 C456.7,386.1 458.8,387.9 460.1,389.5 C461.4,391.1 463.1,393.3 463.2,395.0 C463.3,396.7 462.1,398.3 460.8,399.9 C459.5,401.5 456.8,403.1 455.2,404.7 C453.6,406.3 451.9,407.9 451.3,409.3 C450.7,410.7 450.9,412.1 451.5,412.8 C452.1,413.5 453.4,413.7 455.2,413.7 C457.0,413.7 460.3,413.5 462.2,413.0 C464.1,412.5 465.8,412.0 466.8,410.9 C467.8,409.8 467.7,407.4 468.4,406.3 C469.1,405.2 469.8,404.5 471.2,404.2 C472.6,403.9 475.0,404.1 476.7,404.3 C478.4,404.5 480.0,405.5 481.6,405.5 C483.2,405.5 485.2,405.2 486.4,404.5 C487.6,403.8 487.7,402.1 488.6,401.2 C489.5,400.3 490.8,399.3 491.9,399.2 C493.0,399.1 494.6,399.6 495.4,400.5 C496.2,401.4 496.9,403.2 496.8,404.5 C496.7,405.8 495.4,407.1 494.7,408.2 C493.9,409.3 492.2,410.7 492.3,411.4 C492.4,412.1 493.5,412.4 495.4,412.6 C497.3,412.8 501.5,412.4 503.5,412.6 C505.5,412.8 506.6,413.8 507.2,414.0 L507.2,420.5" fill="none" stroke="#c01fee" stroke-width="3.2" stroke-linejoin="round"/>
<rect x="328.5" y="421.2" width="180.3" height="62.7" fill="#9fa5a5"/>
<polygon points="344.0,421.2 339.1,433.0 339.8,442.6 338.4,444.7 340.5,448.1 342.6,453.0 344.0,462.0 345.3,470.2 346.7,475.8 342.6,480.6 344.0,484.0 367.4,484.0 366.0,478.5 366.7,473.0 367.4,460.6 366.0,450.9 363.3,448.1 361.2,442.6 362.6,435.7 355.7,421.2" fill="url(#poreg)" stroke="url(#poreg)" stroke-width="0.6" stroke-linejoin="round"/>
<polygon points="385.0,421.2 381.6,433.0 378.8,437.8 379.5,442.6 382.3,448.1 383.6,455.1 381.6,460.6 385.7,467.5 387.1,473.0 386.4,481.3 387.8,484.0 413.3,484.0 411.3,475.8 412.0,467.5 410.6,460.6 406.4,453.7 407.1,448.1 409.2,442.6 406.4,440.6 402.3,435.7 396.1,421.2" fill="url(#poreg)" stroke="url(#poreg)" stroke-width="0.6" stroke-linejoin="round"/>
<polygon points="426.6,421.2 421.7,435.0 421.0,442.6 423.1,447.5 425.2,453.7 426.6,463.3 428.0,475.8 425.2,481.3 425.5,484.0 448.7,484.0 447.3,477.2 448.7,467.5 448.0,453.7 447.3,446.8 442.5,444.0 443.8,439.2 436.2,421.2" fill="url(#poreg)" stroke="url(#poreg)" stroke-width="0.6" stroke-linejoin="round"/>
<polygon points="468.8,421.2 461.2,438.4 464.7,446.7 464.0,450.9 465.3,456.4 464.7,460.5 468.1,467.4 470.2,475.7 468.1,484.0 499.8,484.0 496.4,478.4 495.7,472.9 493.6,468.8 494.3,463.3 491.6,457.8 488.8,451.6 489.5,447.4 490.2,442.6 485.3,438.4 477.8,421.2" fill="url(#poreg)" stroke="url(#poreg)" stroke-width="0.6" stroke-linejoin="round"/>
<circle cx="338.9" cy="409.2" r="2.2" fill="none" stroke="#8a9aa8" stroke-width="0.8"/>
<circle cx="351.2" cy="406.2" r="2.9" fill="none" stroke="#8a9aa8" stroke-width="0.8"/>
<circle cx="386.0" cy="394.2" r="2.2" fill="none" stroke="#8a9aa8" stroke-width="0.8"/>
<circle cx="421.9" cy="402.6" r="2.5" fill="none" stroke="#8a9aa8" stroke-width="0.8"/>
<circle cx="456.6" cy="393.6" r="2.4" fill="none" stroke="#8a9aa8" stroke-width="0.8"/>
<circle cx="491.9" cy="405.4" r="2.4" fill="none" stroke="#8a9aa8" stroke-width="0.8"/>
<line x1="350.0" y1="415.2" x2="350.0" y2="429.0" stroke="#111" stroke-width="1.4"/>
<path d="M350.0,412.2 l-2.8,6.5 l2.8,-1.6 l2.8,1.6z" fill="#111"/>
<line x1="389.7" y1="413.2" x2="389.7" y2="428.0" stroke="#111" stroke-width="1.4"/>
<path d="M389.7,410.2 l-2.8,6.5 l2.8,-1.6 l2.8,1.6z" fill="#111"/>
<line x1="431.4" y1="413.2" x2="431.4" y2="429.0" stroke="#111" stroke-width="1.4"/>
<path d="M431.4,410.2 l-2.8,6.5 l2.8,-1.6 l2.8,1.6z" fill="#111"/>
<line x1="473.5" y1="412.8" x2="473.5" y2="429.0" stroke="#111" stroke-width="1.4"/>
<path d="M473.5,409.8 l-2.8,6.5 l2.8,-1.6 l2.8,1.6z" fill="#111"/>
<circle cx="350.2" cy="436.2" r="3.4" fill="#e8fcfc" fill-opacity="0.35" stroke="#c8d4dc" stroke-width="0.9"/><path d="M350.50,432.81 A3.40,3.40 0 1 1 347.41,438.15" fill="none" stroke="#262c3c" stroke-width="1.4"/>
<circle cx="390.2" cy="435.0" r="3.4" fill="#e8fcfc" fill-opacity="0.35" stroke="#c8d4dc" stroke-width="0.9"/><path d="M390.50,431.61 A3.40,3.40 0 1 1 387.41,436.95" fill="none" stroke="#262c3c" stroke-width="1.4"/>
<circle cx="433.1" cy="439.6" r="3.4" fill="#e8fcfc" fill-opacity="0.35" stroke="#c8d4dc" stroke-width="0.9"/><path d="M433.40,436.21 A3.40,3.40 0 1 1 430.31,441.55" fill="none" stroke="#262c3c" stroke-width="1.4"/>
<circle cx="471.7" cy="437.0" r="3.4" fill="#e8fcfc" fill-opacity="0.35" stroke="#c8d4dc" stroke-width="0.9"/><path d="M472.00,433.61 A3.40,3.40 0 1 1 468.91,438.95" fill="none" stroke="#262c3c" stroke-width="1.4"/>
<path d="M334.6,396.9 C335.5,396.4 338.5,395.3 340.0,394.0 C341.5,392.7 343.2,389.8 343.8,389.0" fill="none" stroke="#f0142c" stroke-width="1.7" stroke-linecap="round"/><path d="M0,0 L-3.3,6.2 L0,4.6 L3.3,6.2Z" transform="translate(344.2,385.0) rotate(5.0)" fill="#f0142c"/>
<path d="M365.4,393.2 C366.0,392.1 368.4,388.9 369.1,386.5 C369.8,384.1 369.8,381.1 369.5,379.0 C369.2,376.9 367.8,374.8 367.5,374.0" fill="none" stroke="#f0142c" stroke-width="1.7" stroke-linecap="round"/><path d="M0,0 L-3.3,6.2 L0,4.6 L3.3,6.2Z" transform="translate(366.2,370.8) rotate(-25.0)" fill="#f0142c"/>
<path d="M407.5,394.0 C408.9,393.0 414.4,390.2 416.0,388.2 C417.6,386.2 417.4,383.9 417.3,381.8 C417.2,379.7 415.9,376.6 415.6,375.5" fill="none" stroke="#f0142c" stroke-width="1.7" stroke-linecap="round"/><path d="M0,0 L-3.3,6.2 L0,4.6 L3.3,6.2Z" transform="translate(414.0,371.8) rotate(-25.0)" fill="#f0142c"/>
<path d="M441.4,391.5 C441.5,390.1 441.2,385.4 442.0,383.0 C442.8,380.6 445.3,378.0 446.0,377.0" fill="none" stroke="#f0142c" stroke-width="1.7" stroke-linecap="round"/><path d="M0,0 L-3.3,6.2 L0,4.6 L3.3,6.2Z" transform="translate(452.5,372.4) rotate(55.0)" fill="#f0142c"/>
<path d="M473.9,400.5 C472.9,399.1 468.7,394.8 467.7,392.2 C466.7,389.6 467.4,386.5 467.7,384.6 C468.0,382.7 469.2,381.6 469.5,381.0" fill="none" stroke="#f0142c" stroke-width="1.7" stroke-linecap="round"/><path d="M0,0 L-3.3,6.2 L0,4.6 L3.3,6.2Z" transform="translate(471.2,378.2) rotate(25.0)" fill="#f0142c"/>
<path d="M507.2,405.4 C505.8,404.2 500.6,400.9 498.9,398.5 C497.2,396.1 496.9,392.8 496.8,390.9 C496.7,389.0 498.2,387.6 498.5,387.0" fill="none" stroke="#f0142c" stroke-width="1.7" stroke-linecap="round"/><path d="M0,0 L-3.3,6.2 L0,4.6 L3.3,6.2Z" transform="translate(500.9,383.6) rotate(30.0)" fill="#f0142c"/>
<path d="M333.1,517.9 C334.1,516.9 337.8,514.0 339.0,512.0 C340.2,510.0 340.6,508.1 340.4,505.8 C340.2,503.5 338.4,499.3 338.0,498.0" fill="none" stroke="#f0142c" stroke-width="1.7" stroke-linecap="round"/><path d="M0,0 L-3.3,6.2 L0,4.6 L3.3,6.2Z" transform="translate(334.2,492.8) rotate(-30.0)" fill="#f0142c"/>
<text x="344.2" y="510.6" font-size="14">Instability</text>
<rect x="421" y="497.2" width="16" height="15.7" fill="#eef2f2"/>
<circle cx="428.2" cy="505.2" r="5.6" fill="#eaf0f0" stroke="#b8c0c4" stroke-width="1"/>
<path d="M427.23,499.69 A5.60,5.60 0 1 1 424.60,509.49" fill="none" stroke="#222833" stroke-width="1.9"/>
<text x="440.2" y="510.4" font-size="14">Nanobubble</text>
</svg></body></html>
